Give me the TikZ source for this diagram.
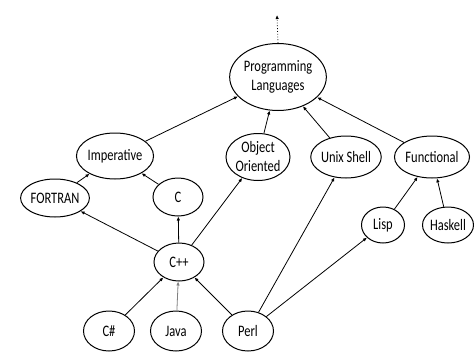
\documentclass[tikz,border=0pt]{standalone}
\usepackage{fontspec}
\setmainfont{Carlito}
\newfontfamily\langfont[FakeStretch=0.78]{Carlito}
\usetikzlibrary{shapes.geometric,arrows.meta}
\begin{document}
\begin{tikzpicture}[x=1pt,y=-1pt,
  lang/.style={draw,ellipse,line width=1pt,inner sep=0pt,font=\langfont\fontsize{16}{19}\selectfont,align=center},
  conn/.style={line width=0.8pt,-{Latex[length=4pt,width=3.5pt]}}]
\useasboundingbox (0,0) rectangle (474,351);
\node[lang,minimum width=90,minimum height=67] (pl) at (278,77) {Programming\\Languages};
\node[lang,minimum width=63,minimum height=46] (imp) at (115,156) {Imperative};
\node[lang,minimum width=64,minimum height=47] (oo) at (258,157) {Object\\Oriented};
\node[lang,minimum width=62,minimum height=42] (unix) at (346,157) {Unix Shell};
\node[lang,minimum width=61,minimum height=42] (fun) at (432,157) {Functional};
\node[lang,minimum width=56,minimum height=38] (fort) at (55,198) {FORTRAN};
\node[lang,minimum width=50,minimum height=38] (c) at (178,197) {C};
\node[lang,minimum width=43,minimum height=36] (lisp) at (383,225) {Lisp};
\node[lang,minimum width=51,minimum height=36] (has) at (448,225) {Haskell};
\node[lang,minimum width=50,minimum height=38] (cpp) at (179,262) {C++};
\node[lang,minimum width=51,minimum height=40] (cs) at (109,331) {C\#};
\node[lang,minimum width=51,minimum height=40] (java) at (176,331) {Java};
\node[lang,minimum width=51,minimum height=40] (perl) at (248,331) {Perl};
\coordinate (top) at (277,15);
\draw[line width=0.8pt,dotted,-{Latex[length=4pt,width=3.5pt]}] (pl.north) -- (top);
\draw[conn] (imp) -- (pl);
\draw[conn] (oo) -- (pl);
\draw[conn] (unix) -- (pl);
\draw[conn] (fun) -- (pl);
\draw[conn] (fort) -- (imp);
\draw[conn] (c) -- (imp);
\draw[conn] (cpp) -- (fort);
\draw[conn] (cpp) -- (c);
\draw[conn] (cpp) -- (oo);
\draw[conn] (perl) -- (unix);
\draw[conn] (perl) -- (lisp);
\draw[conn] (lisp) -- (fun);
\draw[conn] (has) -- (fun);
\draw[conn] (cs) -- (cpp);
\draw[conn,gray] (java) -- (cpp);
\draw[conn] (perl) -- (cpp);
\end{tikzpicture}
\end{document}
